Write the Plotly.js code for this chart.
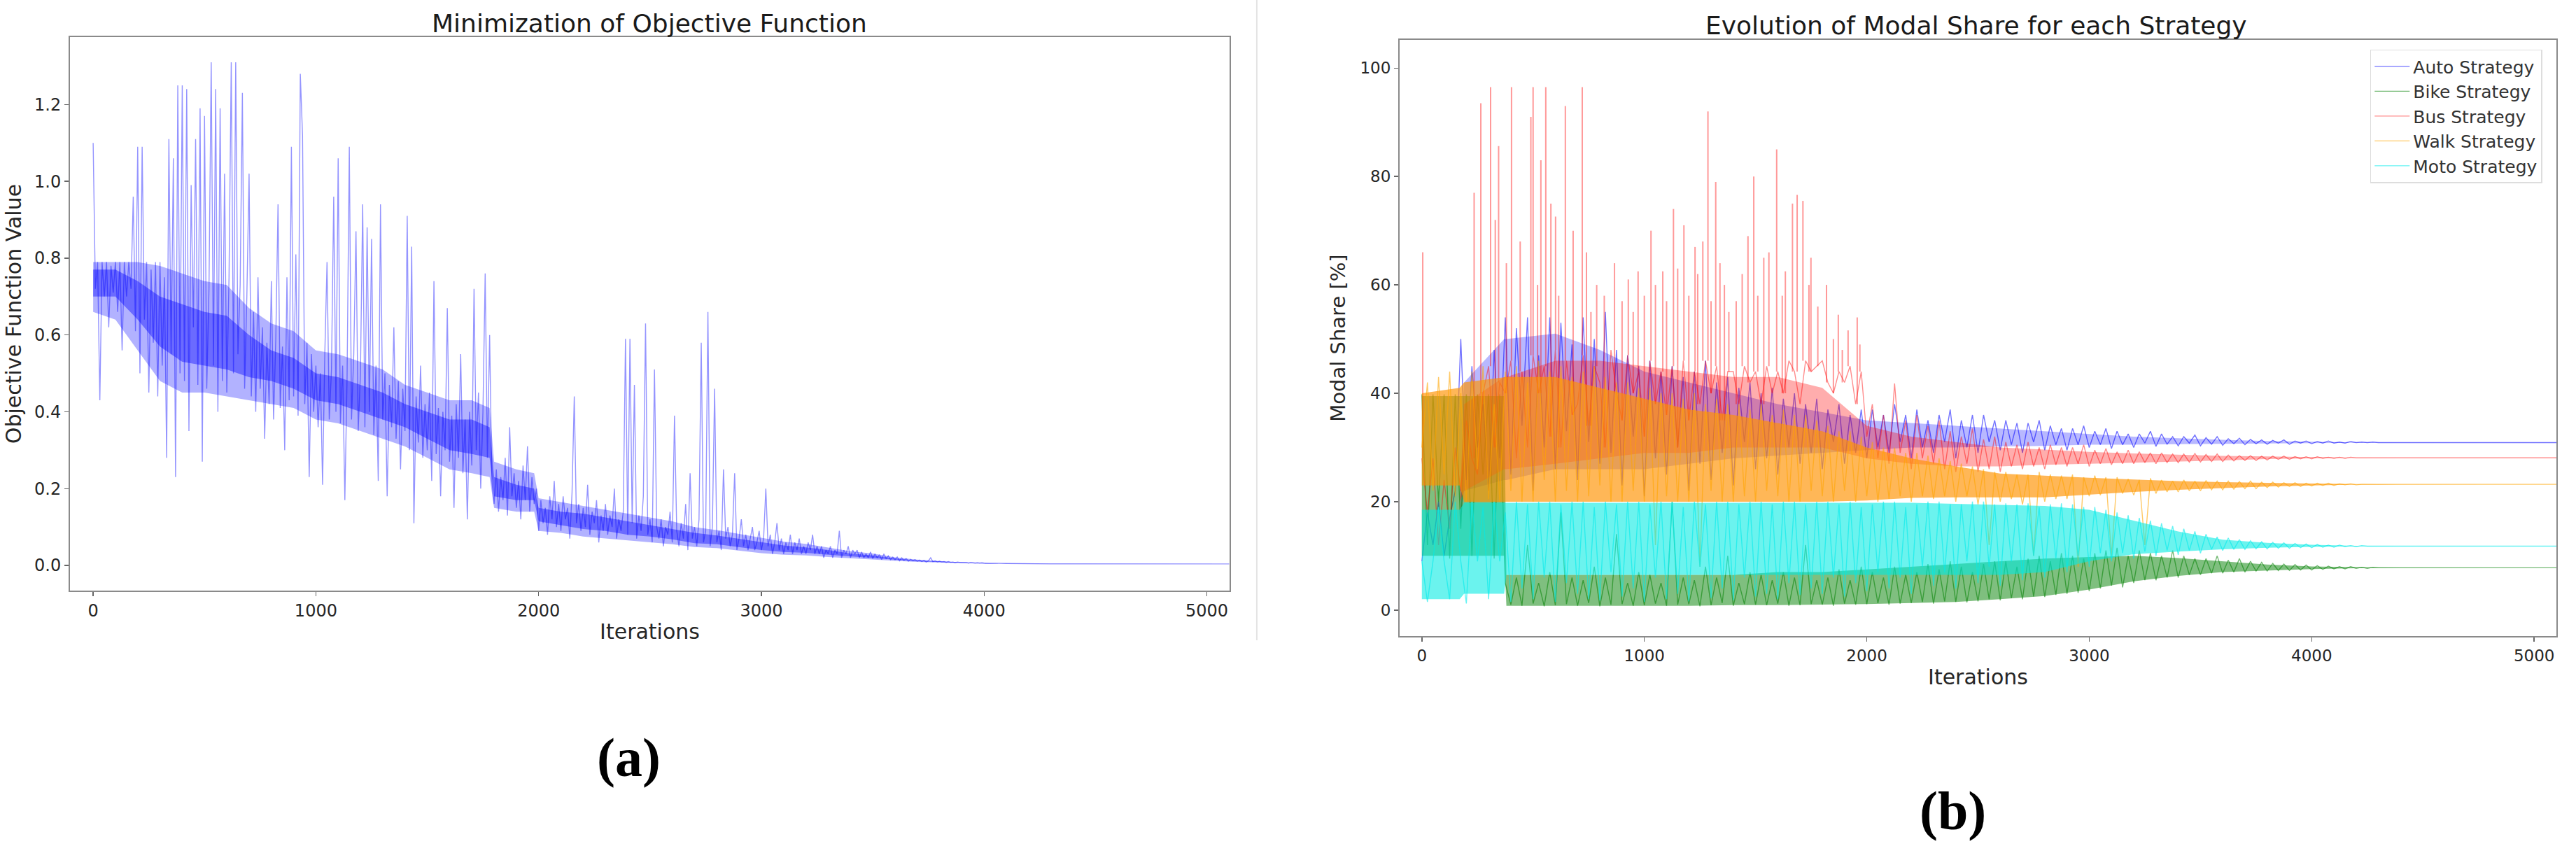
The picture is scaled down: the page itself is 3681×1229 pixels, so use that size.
<!DOCTYPE html>
<html>
<head>
<meta charset="utf-8">
<script src="https://cdn.plot.ly/plotly-3.0.1.min.js"></script>
<style>
html,body{margin:0;padding:0;background:#fff;}
#chart{width:3681px;height:1229px;}
</style>
</head>
<body>
<div id="chart"></div>
<script>
// ---------------- (a) Objective function ----------------
const objStep = 10; // iterations between dense samples (0..4000)
const objDense = [
1.10,0.72,0.79,0.43,0.79,0.70,0.79,0.62,0.78,0.71,
0.79,0.66,0.79,0.56,0.79,0.70,0.79,0.72,0.96,0.61,
1.09,0.50,1.09,0.64,0.79,0.45,0.77,0.58,0.79,0.44,
0.79,0.52,0.75,0.28,1.11,0.55,1.06,0.23,1.25,0.50,
1.25,0.48,1.24,0.35,0.99,0.62,1.11,0.47,1.19,0.27,
1.17,0.46,0.72,1.31,0.52,1.24,0.40,1.19,0.48,1.02,
0.45,0.75,1.31,0.50,1.31,0.55,0.73,1.23,0.46,0.70,
1.02,0.44,0.66,0.40,0.75,0.46,0.62,0.33,0.58,0.42,
0.74,0.38,0.59,0.94,0.41,0.57,0.30,0.75,0.43,1.09,
0.44,0.81,0.39,1.28,1.12,0.42,0.58,0.23,0.55,0.40,
0.52,0.36,0.50,0.21,0.55,0.79,0.38,0.51,0.96,0.40,
1.06,0.37,0.52,0.17,0.49,1.09,0.38,0.55,0.87,0.35,
0.50,0.94,0.36,0.88,0.40,0.85,0.34,0.52,0.22,0.94,
0.38,0.50,0.18,0.47,0.36,0.62,0.33,0.48,0.25,0.46,
0.35,0.91,0.30,0.83,0.11,0.44,0.32,0.52,0.28,0.42,
0.30,0.45,0.22,0.74,0.29,0.41,0.18,0.40,0.30,0.67,
0.27,0.39,0.15,0.42,0.28,0.55,0.24,0.38,0.12,0.40,
0.26,0.72,0.30,0.45,0.20,0.40,0.76,0.28,0.60,0.22,
0.16,0.25,0.14,0.23,0.17,0.28,0.13,0.36,0.18,0.24,
0.15,0.22,0.12,0.26,0.17,0.31,0.14,0.23,0.16,0.20,
0.09,0.17,0.11,0.15,0.08,0.18,0.12,0.22,0.10,0.16,
0.09,0.18,0.12,0.15,0.07,0.19,0.44,0.11,0.16,0.09,
0.15,0.10,0.21,0.08,0.14,0.11,0.17,0.06,0.13,0.09,
0.16,0.08,0.13,0.10,0.20,0.07,0.12,0.09,0.14,0.59,
0.08,0.59,0.11,0.47,0.07,0.13,0.09,0.18,0.63,0.08,
0.12,0.06,0.51,0.10,0.07,0.12,0.05,0.10,0.08,0.14,
0.06,0.39,0.09,0.05,0.11,0.07,0.16,0.04,0.24,0.07,
0.10,0.05,0.12,0.58,0.06,0.09,0.66,0.05,0.10,0.46,
0.06,0.09,0.04,0.25,0.07,0.10,0.05,0.08,0.24,0.04,
0.07,0.12,0.05,0.08,0.04,0.07,0.10,0.04,0.06,0.09,
0.04,0.07,0.20,0.05,0.08,0.03,0.06,0.11,0.04,0.07,
0.03,0.06,0.04,0.08,0.03,0.06,0.04,0.07,0.03,0.05,
0.03,0.06,0.04,0.08,0.03,0.05,0.03,0.05,0.02,0.04,
0.03,0.05,0.02,0.04,0.03,0.09,0.02,0.04,0.03,0.05,
0.02,0.04,0.03,0.04,0.02,0.035,0.02,0.03,0.02,0.035,
0.018,0.03,0.02,0.028,0.015,0.03,0.018,0.025,0.015,0.022,
0.015,0.022,0.012,0.02,0.013,0.018,0.011,0.016,0.012,0.015,
0.011,0.014,0.010,0.013,0.009,0.012,0.020,0.010,0.012,0.009,
0.011,0.009,0.010,0.008,0.010,0.008,0.009,0.007,0.009,0.008,
0.008,0.007,0.008,0.006,0.008,0.007,0.006,0.007,0.006,0.007,
0.006
];
const objTailIter = [4100,4200,4300,4400,4500,4600,4700,4800,4900,5000,5100];
const objTail = [0.005,0.004,0.004,0.004,0.004,0.004,0.004,0.004,0.004,0.004,0.004];

// dense core of the objective trace (outer = lighter, inner = darkest)
const objBandIter = [0,100,200,300,400,500,600,700,800,900,1000,1100,1200,1300,1400,1500,1600,1700,1780,1800,1900,1980,2000,2100,2200,2300,2400,2500,2600,2700,2800,2900,3000,3100,3200,3300,3400,3500,3600,3700,3800,3900,4000,4100,5100];
const objOuterLo = [0.66,0.64,0.56,0.48,0.45,0.45,0.44,0.43,0.42,0.41,0.38,0.37,0.35,0.33,0.31,0.28,0.25,0.24,0.23,0.15,0.14,0.14,0.09,0.085,0.075,0.07,0.065,0.06,0.055,0.048,0.045,0.038,0.032,0.028,0.026,0.022,0.018,0.015,0.012,0.009,0.007,0.006,0.005,0.004,0.004];
const objOuterHi = [0.79,0.79,0.79,0.78,0.76,0.74,0.73,0.67,0.63,0.61,0.56,0.55,0.53,0.51,0.47,0.45,0.43,0.43,0.41,0.27,0.25,0.24,0.175,0.165,0.155,0.145,0.135,0.125,0.115,0.10,0.092,0.082,0.072,0.062,0.056,0.047,0.037,0.031,0.021,0.015,0.011,0.008,0.006,0.004,0.004];
const objInnerLo = [0.70,0.70,0.64,0.57,0.53,0.52,0.51,0.49,0.48,0.46,0.43,0.42,0.40,0.38,0.36,0.33,0.30,0.29,0.28,0.18,0.17,0.17,0.115,0.105,0.095,0.09,0.08,0.075,0.068,0.058,0.055,0.047,0.04,0.035,0.033,0.028,0.023,0.019,0.015,0.011,0.009,0.007,0.005,0.004,0.004];
const objInnerHi = [0.77,0.77,0.74,0.70,0.68,0.66,0.65,0.60,0.56,0.54,0.50,0.49,0.47,0.45,0.42,0.40,0.38,0.38,0.36,0.23,0.21,0.20,0.15,0.14,0.135,0.125,0.115,0.105,0.095,0.085,0.078,0.069,0.06,0.052,0.047,0.04,0.031,0.026,0.018,0.013,0.010,0.0075,0.006,0.004,0.004];

// ---------------- (b) Modal share ----------------
const shareStep = 25;          // dense samples 0..4500
const shareTailIter = [4600,4700,4800,4900,5000,5100];
const strategyNames = ["Auto Strategy","Bike Strategy","Bus Strategy","Walk Strategy","Moto Strategy"];

const autoShare = [
9,18,12,20, 10,17,22,50, 24,45,30,38, 22,48,28,54, 25,52,34,54,
22,47,30,54, 26,53,33,49, 24,54,31,50, 27,55,29,48, 23,47,32,45,
21,46,28,44, 25,45,30,43, 22,44,27,46, 24,42,29,43, 23,41,31,42,
26,40,28,41, 25,39,30,40, 27,38,29,39, 26,37,31,38, 27,36,29,37,
28,37,30,36, 29,38,31,36, 28,37,30,35, 29,36,31,37, 28,35,30,36,
29,36,31,35, 29.5,35,30.5,34.5, 29,34.5,31,35, 29.5,34,30.5,33.5, 29.5,33.5,30.5,34,
30,33,30.5,33.5, 29.8,33,30.5,32.5, 30,32.5,30.8,33, 30.2,32.5,30.6,32, 30.3,32,30.8,32.3,
30.3,31.8,30.6,32, 30.4,31.6,30.7,31.7, 30.5,31.5,30.7,31.4, 30.6,31.3,30.8,31.4, 30.6,31.2,30.8,31.2,
30.7,31.1,30.8,31.2, 30.8,31.0,30.8,31.1, 30.9,31.0,30.9,31.0, 30.9,30.9,30.9,30.9, 30.9,30.9,30.9,30.9,
30.9,
30.9,30.9,30.9,30.9,30.9,30.9
];
const bikeShare = [
39.8,12,39.8,20, 39.8,9.5,39.8,15, 39.8,10,39.8,25, 39.8,9.5,39.8,5, 1.0,6,0.8,12,
1.2,5,0.7,7, 0.9,18,1.1,6, 0.8,5.5,1.3,8, 0.7,6,1.0,14, 1.1,5,0.8,7,
0.9,6.5,1.2,5, 0.8,20,1.0,6, 1.1,5.5,0.7,8, 0.9,6,1.3,10, 0.8,5,1.1,7,
1.0,6.5,0.9,5.5, 1.2,7,0.8,6, 0.9,12,1.1,5.5, 1.0,6,0.8,7.5, 1.2,5.5,1.0,8,
1.1,7,1.3,6, 1.0,8,1.2,6.5, 1.3,7,1.5,8.5, 1.2,7.5,1.6,9, 1.5,8,1.4,7,
1.6,8.5,2,9, 1.8,9,2.2,8, 2,9.5,2.5,10, 2.4,9,2.8,10.5, 3,10,3.2,9.5,
3.5,10.5,4,11, 4.5,11.5,4.2,10, 5,11,5.5,10.5, 5.5,10,6,11, 6,10,6.5,9.5,
6.5,9.5,6.8,10, 6.8,9.2,7,9.5, 7,9,7.2,8.8, 7.2,8.6,7.3,8.5, 7.3,8.4,7.4,8.3,
7.4,8.2,7.5,8.1, 7.6,8.0,7.6,8.0, 7.7,7.9,7.7,7.9, 7.8,7.8,7.8,7.8, 7.8,7.8,7.8,7.8,
7.8,
7.8,7.8,7.8,7.8,7.8,7.8
];
const busShare = [
28,18,28,12, 24,15,30,22, 35,28,25,40, 45,30,42,40, 46,28,44,30,
47,40,45,32, 48,30,46,36, 38,47,34,45, 42,30,48,40, 35,47,40,44,
32,46,38,44, 36,45,30,46, 35,44,38,46, 40,45,35,44, 44,38,45,42,
44,38,45,40, 44,40,46,44, 38,46,44,45, 46,42,40,44, 42,45,38,44,
32,38,28,36, 27,41.8,29,35, 26,36,28,34, 27,35,26,33, 25.5,32,27,33.5,
25.5,31.5,26,32, 25.5,31,26.5,30.5, 26,31,26.5,30, 26,30.5,26.8,30, 26.5,30,27,30.5,
26.5,29.5,27,29.8, 26.8,29.2,27,29.5, 27,29.2,27.2,29, 27,29,27.2,28.8, 27.2,28.8,27.3,28.9,
27.3,28.7,27.4,28.8, 27.4,28.6,27.5,28.5, 27.6,28.5,27.6,28.4, 27.7,28.4,27.8,28.4, 27.8,28.3,27.9,28.3,
27.9,28.3,28.0,28.2, 28.0,28.2,28.0,28.2, 28.1,28.1,28.1,28.1, 28.1,28.1,28.1,28.1, 28.1,28.1,28.1,28.1,
28.1,
28.1,28.1,28.1,28.1,28.1,28.1
];
// isolated one-iteration peaks of the Bus share
const busPeakIter = [4,235,265,309,330,345,380,403,442,490,500,520,535,557,580,601,615,645,680,721,740,760,786,820,866,900,928,950,972,1000,1030,1050,1083,1100,1131,1150,1178,1200,1228,1240,1263,1286,1300,1321,1340,1360,1380,1413,1440,1466,1492,1510,1537,1560,1595,1620,1634,1666,1687,1713,1740,1749,1780,1819,1850,1872,1890,1916,1957,1969];
const busPeakVal  = [66,77,93.5,96.5,72,85.6,64,96.5,68,91,96.5,60,83,96.5,75,72.6,58,93,70,96.5,66,55,60,58,64,57,61,55,62.5,58,70,60,62.5,57,74,63,71,58,67,62,68,92,57,79,64,60,55,57,62,69,80,58,65,66,85,58,62.5,75,76.6,75.5,60,65,56,60,50,54.5,48,51.6,54,49];

const walkShare = [
30,42,22,43, 25,44,21,40, 20,44,26,45, 20.5,38,20,44, 22,45,20,42,
20,46,24,44, 20,45,22,43, 20,44,21,45, 23,43,20,42, 20,42,22,41,
20,41,12,40, 21,40,20,39, 20,40,8,38, 22,39,20,38, 20,38,21,37,
20,38,22,36, 21,37,20,36, 20,36,22,35, 21,34,20,33, 22,33,20,32,
21,31,20,30, 20.5,30,21,29, 20,29,21,28.5, 20.5,28,21,27.5, 20,27,21,26.5,
19.5,26,12,25.5, 20,25.5,20.5,25, 19.5,25,10,25.5, 20,25,20.5,24.8, 20.5,25,8,24.5,
21,24.8,21.2,24.5, 10,24.5,21.5,24.2, 21.2,24,12,24.3, 21.5,24,21.8,23.8, 21.8,24,22,23.8,
22,23.9,22.2,23.8, 22.2,23.8,22.3,23.7, 22.4,23.8,22.4,23.6, 22.6,23.6,22.7,23.5, 22.8,23.5,22.8,23.4,
22.9,23.4,23.0,23.4, 23.0,23.3,23.1,23.3, 23.1,23.2,23.2,23.2, 23.2,23.2,23.2,23.2, 23.2,23.2,23.2,23.2,
23.2,
23.2,23.2,23.2,23.2,23.2,23.2
];
const motoShare = [
9,1.5,9,19, 9,2,20,9, 1.2,20,9,19, 2,20,9,18, 1.5,20,4,19.5,
2,20,6,20, 1.5,19.5,5,20, 3,20,2,19, 1.8,20,7,19.5, 2.5,20,4,20,
1.5,19.5,6,20, 2,20,3,19, 1.6,20,8,19.5, 2.2,20,4,20, 1.8,19.5,6,20,
2.5,20,3,19.5, 2,20,5,20, 2.8,19.5,4,20, 3,20,6,19.5, 2.5,20,5,19,
3.5,19.5,7,20, 4,20,6,19, 3,19.5,8,20, 4.5,20,7,19.5, 4,19.5,9,20,
5,20,8,19.5, 4.5,19.7,9,19.5, 5.5,19.7,10,19, 6,19.5,9.5,19.7, 7,19.5,10,19,
8,19,10.5,18.5, 9,18,10.5,17.5, 9.5,17,10.8,16.5, 10,16,11,15.5, 10.2,15,11,14.5,
10.5,14,11.2,13.5, 11,13.3,11.2,13, 11.2,12.8,11.3,12.6, 11.3,12.5,11.4,12.4, 11.4,12.3,11.5,12.2,
11.5,12.1,11.6,12.0, 11.6,12.0,11.7,11.9, 11.7,11.9,11.8,11.8, 11.8,11.8,11.8,11.8, 11.8,11.8,11.8,11.8,
11.8,
11.8,11.8,11.8,11.8,11.8,11.8
];

// dense core envelopes of each strategy
const shareBandIter = [0,170,190,370,380,600,800,1000,1200,1400,1600,1800,2000,2200,2400,2600,2800,3000,3200,3400,3600,3800,4000,4200,4400,5100];
const autoBandLo = [15,15,22,24,24,26,26,26,27,28,28.5,29,29.5,30,30,30.2,30.3,30.5,30.5,30.6,30.7,30.75,30.8,30.88,30.9,30.9];
const autoBandHi = [15,15,42,50,50,51,48,44,42,40,38,36.5,35,34.5,34,33.5,33,32.5,32,31.7,31.4,31.2,31.05,30.93,30.9,30.9];
const bikeBandLo = [10,10,10,10,0.8,0.8,0.8,0.8,0.8,0.9,0.9,1,1.1,1.3,1.5,2,2.6,3.8,5.3,6.3,7,7.3,7.55,7.72,7.8,7.8];
const bikeBandHi = [39.5,39.5,39.5,39.5,6.5,6.5,6.5,6.5,6.5,6.5,7,7,7.5,8,8.5,9,9.5,9.8,10,9.6,9,8.4,8.05,7.88,7.8,7.8];
const busBandLo = [20,20,22,26,26,27,28,29,29,30,30,30,28,27,26.5,26.5,26.8,27,27.2,27.4,27.6,27.85,28,28.08,28.1,28.1];
const busBandHi = [20,20,38,43,43,46,46,45,44,43,43,41,34,32,31,30,29.6,29.2,28.9,28.7,28.45,28.35,28.2,28.12,28.1,28.1];
const walkBandLo = [23,23,20,20,20,20,20,20,20,20,20,20,20.2,20.7,20.8,20.8,20.8,21.3,21.8,22.2,22.5,22.8,23,23.15,23.2,23.2];
const walkBandHi = [40,41,42,43,43,43,41,39,37,36,34.5,33,30,28,26.5,25.2,24.8,24.4,24.1,23.8,23.6,23.45,23.35,23.25,23.2,23.2];
const motoBandLo = [2,2,3,3,6.5,6.5,6.5,6.5,6.5,6.5,6.5,6.5,6.5,6.5,6.5,6.5,7,9,10.3,10.8,11.2,11.5,11.65,11.75,11.8,11.8];
const motoBandHi = [18.5,18.5,19.8,19.8,19.8,19.8,19.8,19.8,19.8,19.8,19.8,19.8,19.8,19.8,19.6,19.4,19.2,18.5,16.5,14.5,13,12.4,12.05,11.85,11.8,11.8];

const xTicks = [0,1000,2000,3000,4000,5000];
const objTicks = [0,0.2,0.4,0.6,0.8,1.0,1.2];
const shareTicks = [0,20,40,60,80,100];

// ---------------- build traces ----------------
function band(xs, lo, hi, color, xa, ya){
  return {x: xs.concat(xs.slice().reverse()), y: hi.concat(lo.slice().reverse()),
    type:'scatter', mode:'lines', fill:'toself', fillcolor:color,
    line:{width:0}, hoverinfo:'skip', showlegend:false, xaxis:xa, yaxis:ya};
}

const objIter = objDense.map((v,i)=>i*objStep).concat(objTailIter);
const objVals = objDense.concat(objTail);

const shareIter = [];
for (let i = 0; i < autoShare.length - shareTailIter.length; i++) shareIter.push(i*shareStep);
shareTailIter.forEach(v=>shareIter.push(v));

const traces = [];
traces.push(band(objBandIter, objOuterLo, objOuterHi, 'rgba(0,0,255,0.3)', 'x', 'y'));
traces.push(band(objBandIter, objInnerLo, objInnerHi, 'rgba(0,0,255,0.4)', 'x', 'y'));
traces.push({x: objIter, y: objVals, type:'scatter', mode:'lines',
  line:{color:'rgba(0,0,255,0.42)', width:1.4}, showlegend:false, xaxis:'x', yaxis:'y'});

const seriesVals = [autoShare, bikeShare, busShare, walkShare, motoShare];
const bandLo = [autoBandLo, bikeBandLo, busBandLo, walkBandLo, motoBandLo];
const bandHi = [autoBandHi, bikeBandHi, busBandHi, walkBandHi, motoBandHi];
const fillColors = ['rgba(0,0,255,0.28)','rgba(0,128,0,0.5)','rgba(255,0,0,0.32)','rgba(255,145,0,0.66)','rgba(0,235,225,0.58)'];
const lineColors = ['rgba(0,0,255,0.55)','rgba(0,128,0,0.55)','rgba(255,0,0,0.45)','rgba(255,165,0,0.6)','rgba(0,235,235,0.6)'];

for (let k = 0; k < 5; k++){
  traces.push(band(shareBandIter, bandLo[k], bandHi[k], fillColors[k], 'x2', 'y2'));
  traces.push({x: shareIter, y: seriesVals[k], type:'scatter', mode:'lines', name: strategyNames[k],
    line:{color: lineColors[k], width:1.4}, xaxis:'x2', yaxis:'y2', legendrank: k+1});
  if (k === 2){
    // peaks drawn as one-iteration vertical excursions from the Bus share level
    const px = [], py = [];
    busPeakIter.forEach((it, j) => {
      const base = busShare[Math.round(it / shareStep)];
      px.push(it, it, null); py.push(base, busPeakVal[j], null);
    });
    traces.push({x: px, y: py, type:'scatter', mode:'lines', showlegend:false,
      line:{color:'rgba(255,0,0,0.4)', width:2}, xaxis:'x2', yaxis:'y2'});
  }
}

const FONT = 'DejaVu Sans, Verdana, sans-serif';
const axisCommon = {showgrid:false, zeroline:false, showline:true, mirror:true,
  linecolor:'#8a8a8a', linewidth:2, ticks:'outside', ticklen:6, tickwidth:1.5, tickcolor:'#666'};

const layout = {
  width:3681, height:1229, margin:{l:0,r:0,t:0,b:0},
  paper_bgcolor:'#ffffff', plot_bgcolor:'#ffffff',
  font:{family:FONT, color:'#262626'},
  showlegend:true,
  legend:{x:0.9869, xanchor:'right', y:0.9425, yanchor:'top',
    bgcolor:'rgba(255,255,255,0.85)', bordercolor:'#dddddd', borderwidth:1.5,
    font:{family:FONT, size:25, color:'#333'}, itemwidth:50, traceorder:'normal'},
  xaxis: Object.assign({}, axisCommon, {domain:[0.02717,0.47732], range:[-104,5102], anchor:'y',
    tickvals:xTicks, tickfont:{size:24},
    title:{text:'Iterations', font:{size:30}, standoff:6}}),
  yaxis: Object.assign({}, axisCommon, {domain:[0.31326,0.95688], range:[-0.0655,1.3755], anchor:'x',
    tickvals:objTicks, tickformat:'.1f', tickfont:{size:24},
    title:{text:'Objective Function Value', font:{size:30}, standoff:10}}),
  xaxis2: Object.assign({}, axisCommon, {domain:[0.54333,0.99239], range:[-100,5100], anchor:'y2',
    tickvals:xTicks, tickfont:{size:23},
    title:{text:'Iterations', font:{size:30}, standoff:8}}),
  yaxis2: Object.assign({}, axisCommon, {domain:[0.26037,0.95362], range:[-4.8,105.2], anchor:'x2',
    tickvals:shareTicks, tickfont:{size:23},
    title:{text:'Modal Share [%]', font:{size:29}, standoff:12}}),
  annotations:[
    {text:'Minimization of Objective Function', xref:'paper', yref:'paper', x:0.2521, y:0.9731,
     xanchor:'center', yanchor:'middle', showarrow:false, font:{family:FONT, size:36, color:'#1a1a1a'}},
    {text:'Evolution of Modal Share for each Strategy', xref:'paper', yref:'paper', x:0.7672, y:0.9699,
     xanchor:'center', yanchor:'middle', showarrow:false, font:{family:FONT, size:36, color:'#1a1a1a'}},
    {text:'<b>(a)</b>', xref:'paper', yref:'paper', x:0.2440, y:0.1188, xanchor:'center', yanchor:'middle',
     showarrow:false, font:{family:'Liberation Serif, serif', size:78, color:'#000'}},
    {text:'<b>(b)</b>', xref:'paper', yref:'paper', x:0.7580, y:0.0570, xanchor:'center', yanchor:'middle',
     showarrow:false, font:{family:'Liberation Serif, serif', size:78, color:'#000'}}
  ],
  shapes:[
    {type:'line', xref:'paper', yref:'paper', x0:0.4879, x1:0.4879, y0:1, y1:0.2555,
     line:{color:'#e4e4e4', width:2}}
  ]
};

Plotly.newPlot('chart', traces, layout, {staticPlot:true, displayModeBar:false});
</script>
</body>
</html>
